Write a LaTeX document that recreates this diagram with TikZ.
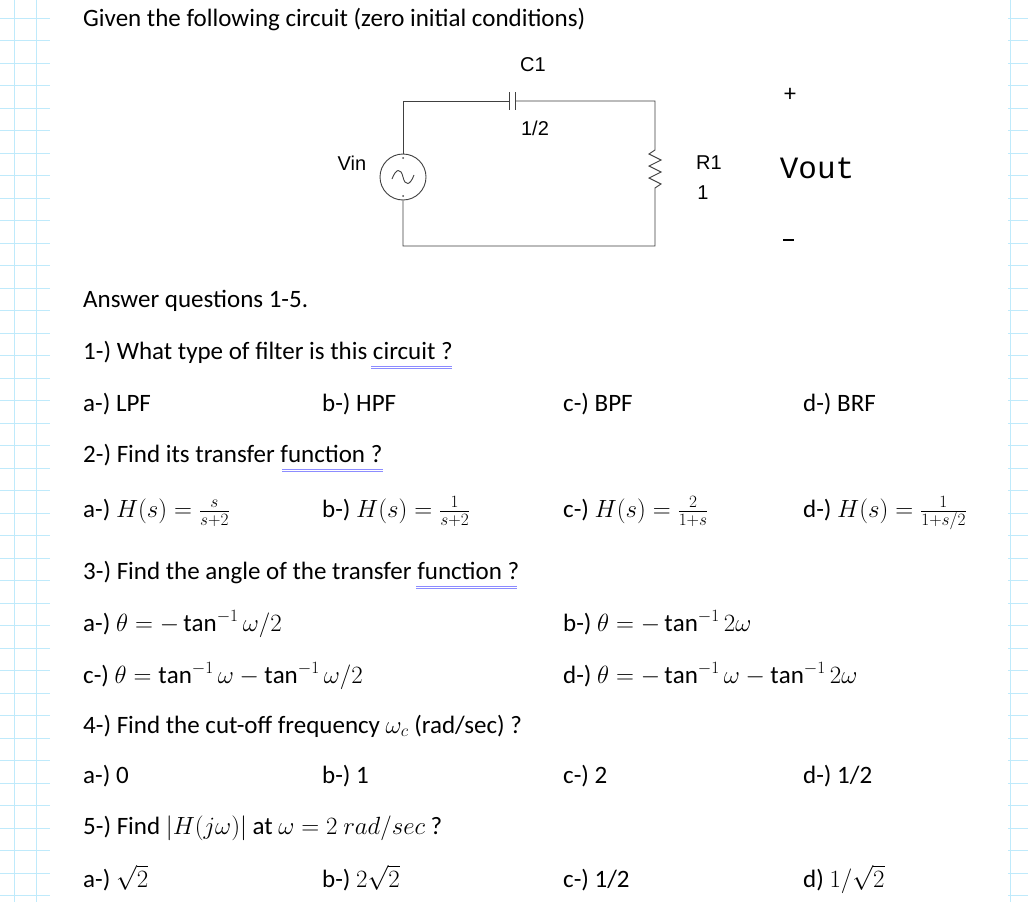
\documentclass[tikz,border=0pt]{standalone}
\usepackage{fontspec}
\setmainfont{Carlito}
\newfontfamily\monof{Liberation Mono}
\newfontfamily\arialf{Liberation Sans}
\begin{document}
\begin{tikzpicture}[x=1pt,y=-1pt,
  txt/.style={anchor=base west,inner sep=0pt,font=\fontsize{25}{28}\selectfont},
  lbl/.style={inner sep=0pt,font=\arialf\fontsize{20}{22}\selectfont},
  grid/.style={draw=cyan!25,line width=0.8pt},
  wire/.style={draw=black!75,line width=0.9pt},
  spell/.style={draw=blue!45,line width=0.7pt}]
\useasboundingbox[fill=white] (0,0) rectangle (1028,902);
% grid strips
\foreach \y in {18,40.5,...,900} {\draw[grid] (0,\y)--(50,\y); \draw[grid] (1008,\y)--(1028,\y);}
\foreach \x in {14,36} \draw[grid] (\x,0)--(\x,902);
\draw[grid] (1010,0)--(1010,902);
% circuit
\coordinate (tl) at (403,101); \coordinate (tr) at (655,101);
\coordinate (bl) at (403,246); \coordinate (br) at (655,246);
\node[circle,draw=black!75,line width=0.9pt,minimum size=46pt,inner sep=0pt] (src) at (403,177) {};
\draw[wire] (src.north)--(tl)--(509,101);
\draw[wire] (509,92)--(509,110) (515,92)--(515,110);
\draw[wire] (515,101)--(tr)--(655,150) -- ++(-6,4) -- ++(12,6) -- ++(-12,6) -- ++(12,6) -- ++(-12,6) -- ++(12,6) -- ++(-6,4) -- (br)--(bl)--(src.south);
\draw[wire] (392,179) .. controls (396,168) and (401,168) .. (403,177) .. controls (405,186) and (410,186) .. (414,175);
\fill[black!70] (403,158) circle (1) (403,196) circle (1);
\node[lbl] (c1) at (533,65) {C1};
\node[lbl] (cv) at (535,128) {1/2};
\node[lbl] (vin) at (352,163) {Vin};
\node[lbl] (r1) at (709,163) {R1};
\node[lbl] (rv) at (703,193) {1};
\node[inner sep=0pt,font=\fontsize{24}{26}\selectfont] (pl) at (790,95) {+};
\node[inner sep=0pt,font=\monof\fontsize{31}{33}\selectfont] (vo) at (817,168) {Vout};
\draw[line width=2pt] (783,240)--(794,240);
% text
\node[txt] (t0) at (83,27) {Given the following circuit (zero initial conditions)};
\node[txt] (t1) at (83,307) {Answer questions 1-5.};
\node[txt] (q1) at (83,359) {1-) What type of filter is this circuit ?};
\draw[spell] (371,366)--(452,366) (371,368.5)--(452,368.5);
\node[txt] at (83,411) {a-) LPF}; \node[txt] at (322,411) {b-) HPF};
\node[txt] at (563,411) {c-) BPF}; \node[txt] at (803,411) {d-) BRF};
\node[txt] (q2) at (83,462) {2-) Find its transfer function ?};
\draw[spell] (282,469)--(383,469) (282,471.5)--(383,471.5);
\node[txt] at (83,517) {a-) $H(s)=\frac{s}{s+2}$}; \node[txt] at (322,517) {b-) $H(s)=\frac{1}{s+2}$};
\node[txt] at (563,517) {c-) $H(s)=\frac{2}{1+s}$}; \node[txt] at (803,517) {d-) $H(s)=\frac{1}{1+s/2}$};
\node[txt] (q3) at (83,579) {3-) Find the angle of the transfer function ?};
\draw[spell] (416,586)--(517,586) (416,588.5)--(517,588.5);
\node[txt] at (83,631) {a-) $\theta=-\tan^{-1}\omega/2$};
\node[txt] at (563,631) {b-) $\theta=-\tan^{-1}2\omega$};
\node[txt] at (83,683) {c-) $\theta=\tan^{-1}\omega-\tan^{-1}\omega/2$};
\node[txt] at (563,683) {d-) $\theta=-\tan^{-1}\omega-\tan^{-1}2\omega$};
\node[txt] (q4) at (83,733) {4-) Find the cut-off frequency $\omega_c$ (rad/sec) ?};
\node[txt] at (83,783) {a-) 0}; \node[txt] at (322,783) {b-) 1};
\node[txt] at (563,783) {c-) 2}; \node[txt] at (803,783) {d-) 1/2};
\node[txt] (q5) at (83,834) {5-) Find $|H(j\omega)|$ at $\omega=2\ rad/sec$ ?};
\node[txt] at (83,887) {a-) $\sqrt{2}$}; \node[txt] at (322,887) {b-) $2\sqrt{2}$};
\node[txt] at (563,887) {c-) 1/2}; \node[txt] at (803,887) {d) $1/\sqrt{2}$};
\end{tikzpicture}
\end{document}
